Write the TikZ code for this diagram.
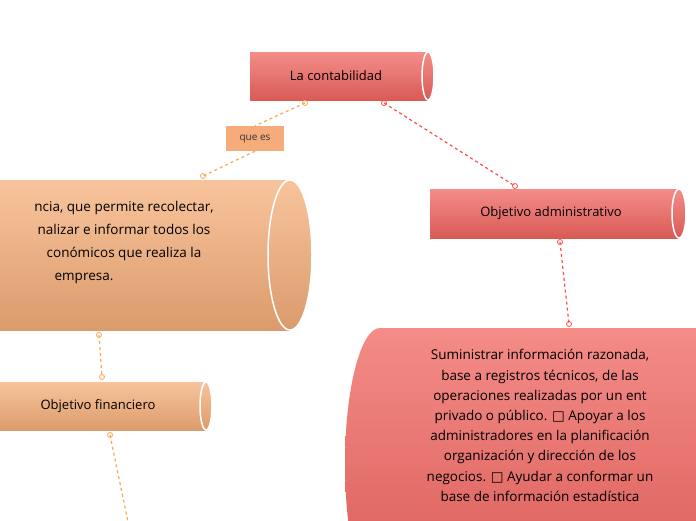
\documentclass[tikz,border=0pt]{standalone}
\usepackage{fontspec}
\setmainfont{Open Sans}
\newfontfamily\symf{DejaVu Sans}
\begin{document}
\begin{tikzpicture}[x=1pt,y=-1pt,
  redc/.style={top color=red!45!white!90!red, bottom color=red!60!black!50!red},
  txt/.style={font=\fontsize{13}{15}\selectfont, text=black, align=center},
  ocon/.style={draw=orange!70!white, dashed, line width=1.2pt},
  rcon/.style={draw=red!70!white, dashed, line width=1.2pt},
  endp/.style={circle, draw, line width=0.8pt, inner sep=0pt, minimum size=5pt}]
\definecolor{rT}{HTML}{F48C88}\definecolor{rB}{HTML}{D95B56}
\definecolor{oT}{HTML}{F8C49C}\definecolor{oB}{HTML}{DB9B6C}
\definecolor{oL}{HTML}{F6AB7A}\definecolor{rL}{HTML}{F06A62}
\useasboundingbox (0,0) rectangle (696,520);
\fill[white] (0,0) rectangle (696,520);
% La contabilidad
\fill[top color=rT,bottom color=rB] (250,52) rectangle (428,100);
\shade[top color=rT,bottom color=rB,draw=white,line width=1.5pt] (428,76) ellipse (6 and 24);
\node[txt] (lc) at (336,76) {La contabilidad};
% big orange
\fill[top color=oT,bottom color=oB] (-5,180) rectangle (290,330);
\shade[top color=oT,bottom color=oB,draw=white,line width=1.5pt] (290,255) ellipse (22 and 75);
\node[txt,font=\fontsize{13.5}{23}\selectfont] (def) at (124,242) {ncia, que permite recolectar,\\nalizar e informar todos los\\conómicos que realiza la\\empresa.\hspace*{80pt}};
% que es
\node[fill=oL, minimum width=58pt, minimum height=25pt, font=\fontsize{10}{12}\selectfont, text=black!80] (qe) at (255,138.5) {que es};
% Objetivo administrativo
\fill[top color=rT,bottom color=rB] (430,189) rectangle (679,238);
\shade[top color=rT,bottom color=rB,draw=white,line width=1.5pt] (679,213.5) ellipse (7 and 24.5);
\node[txt] (oa) at (551,213) {Objetivo administrativo};
% Objetivo financiero
\fill[top color=oT,bottom color=oB] (-5,382) rectangle (206,430);
\shade[top color=oT,bottom color=oB,draw=white,line width=1.5pt] (206,406) ellipse (6 and 24);
\node[txt] (of) at (98,406) {Objetivo financiero};
% big red
\fill[top color=rT,bottom color=rB] (380,328) rectangle (710,600);
\shade[top color=rT,bottom color=rB] (380,464) ellipse (35 and 136);
\node[txt,font=\fontsize{13.5}{20.2}\selectfont,anchor=north] (sum) at (540,346) {Suministrar información razonada, \\base a registros técnicos, de las\\operaciones realizadas por un ent\\privado o público. {\symf □} Apoyar a los\\administradores en la planificación\\organización y dirección de los\\negocios. {\symf □} Ayudar a conformar un\\base de información estadística};
% connectors
\coordinate (a1) at (305,103); \coordinate (a2) at (262,126);
\coordinate (a3) at (248,151); \coordinate (a4) at (203,176);
\draw[ocon] (a1) -- (qe.north); \draw[ocon] (qe.south) -- (a4);
\node[endp,draw=orange!70!white] at (a1) {}; \node[endp,draw=orange!70!white] at (a4) {};
\coordinate (b1) at (384,103); \coordinate (b2) at (515,186);
\draw[rcon] (b1) -- (b2); \node[endp,draw=red!70!white] at (b1) {}; \node[endp,draw=red!70!white] at (b2) {};
\coordinate (c1) at (560,242); \coordinate (c2) at (569,324);
\draw[rcon] (c1) -- (c2); \node[endp,draw=red!70!white] at (c1) {}; \node[endp,draw=red!70!white] at (c2) {};
\coordinate (d1) at (99,335); \coordinate (d2) at (102,377);
\draw[ocon] (d1) -- (d2); \node[endp,draw=orange!70!white] at (d1) {}; \node[endp,draw=orange!70!white] at (d2) {};
\coordinate (e1) at (110,435); \coordinate (e2) at (128,522);
\draw[ocon] (e1) -- (e2); \node[endp,draw=orange!70!white] at (e1) {};
\end{tikzpicture}
\end{document}
